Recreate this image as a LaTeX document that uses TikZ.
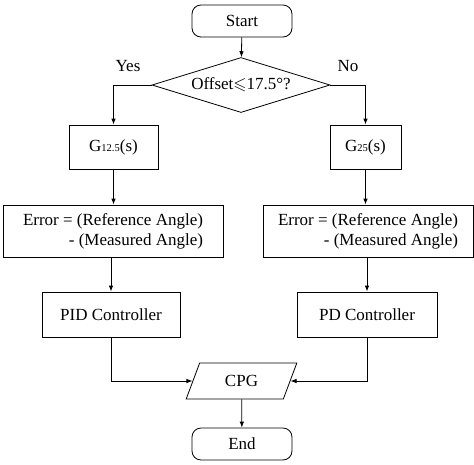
\documentclass[tikz,border=0pt]{standalone}
\usepackage{amssymb}
\usepackage{fontspec}
\setmainfont{Liberation Serif}
\usetikzlibrary{shapes.geometric,arrows.meta}
\tikzset{
  every node/.style={font=\fontsize{17}{20}\selectfont},
  box/.style={draw, line width=0.8pt, inner sep=0pt},
  term/.style={box, rounded corners=9pt, minimum width=100pt, minimum height=32pt},
  decide/.style={box, diamond, aspect=3.2, minimum width=178pt, minimum height=55pt},
  io/.style={box, trapezium, trapezium left angle=65, trapezium right angle=115, trapezium stretches=true, minimum width=111pt, minimum height=36pt},
  conn/.style={line width=0.8pt, -{Latex[length=6pt,width=4.5pt]}},
  lbl/.style={inner sep=0pt},
}
\newcommand{\smallsub}[1]{{\fontsize{10.5}{10.5}\selectfont #1}}
\begin{document}
\begin{tikzpicture}[x=1pt,y=-1pt]
\useasboundingbox (0,0) rectangle (474,464);
\node[term] (start) at (242,21) {Start};
\node[decide] (dia) at (241,85) {Offset$\leqslant$17.5°?};
\node[box, minimum width=89pt, minimum height=44pt] (g1) at (113.5,147) {G\smallsub{12.5}(s)};
\node[box, minimum width=71pt, minimum height=44pt] (g2) at (365.5,147) {G\smallsub{25}(s)};
\node[box, minimum width=220pt, minimum height=52pt, align=right] (e1) at (113,231) {Error = (Reference Angle)\\- (Measured Angle)};
\node[box, minimum width=210pt, minimum height=52pt, align=right] (e2) at (368,231) {Error = (Reference Angle)\\- (Measured Angle)};
\node[box, minimum width=138pt, minimum height=45pt] (pid) at (111,314.5) {PID Controller};
\node[box, minimum width=140pt, minimum height=45pt] (pd) at (367,314.5) {PD Controller};
\node[io] (cpg) at (241.5,381) {CPG};
\node[term] (end) at (242,444) {End};
\node[lbl] (yes) at (128,66) {Yes};
\node[lbl] (no) at (348,66) {No};
\draw[conn] (start) -- (dia);
\draw[conn] (dia.west) -| (g1.north);
\draw[conn] (dia.east) -| (g2.north);
\draw[conn] (g1.south) -- (g1.south |- e1.north);
\draw[conn] (g2.south) -- (g2.south |- e2.north);
\draw[conn] (e1.south -| pid.north) -- (pid.north);
\draw[conn] (e2.south -| pd.north) -- (pd.north);
\draw[conn] (pid.south) |- (cpg);
\draw[conn] (pd.south) |- (cpg);
\draw[conn] (cpg) -- (end);
\end{tikzpicture}
\end{document}
